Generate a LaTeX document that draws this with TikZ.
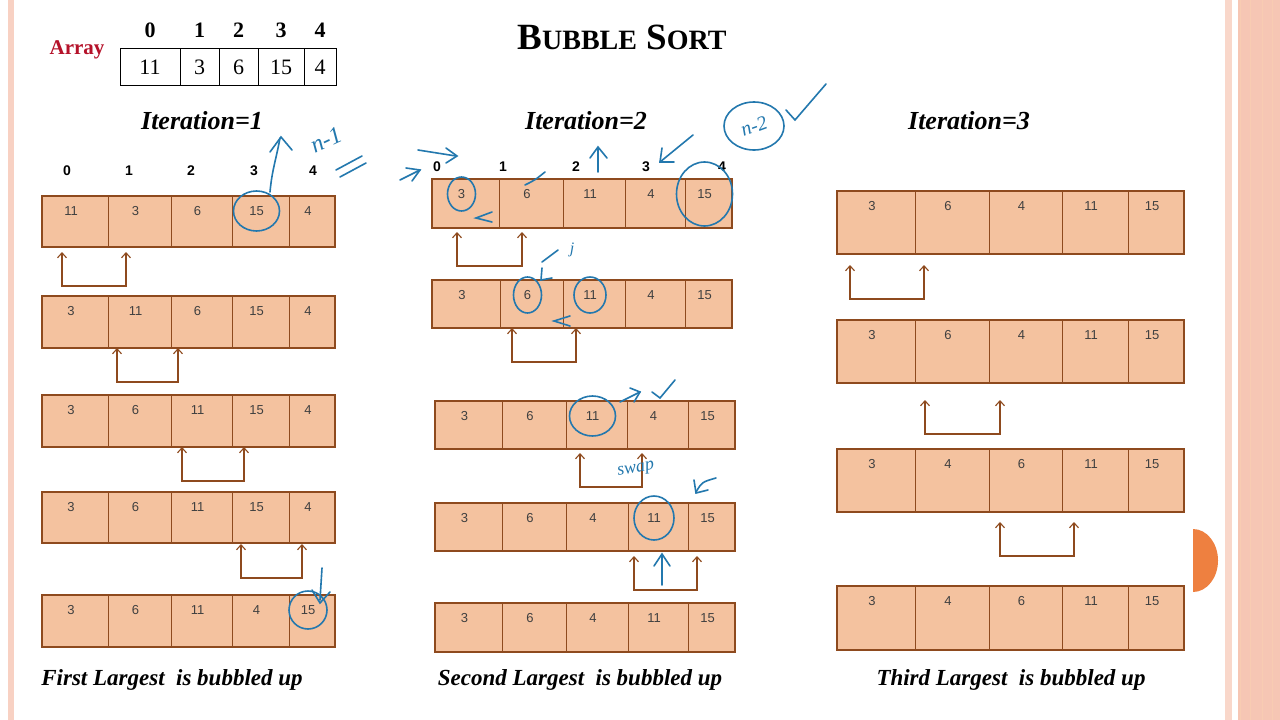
\documentclass[tikz,border=0pt]{standalone}
\usepackage{fontspec}
\setmainfont{Liberation Serif}
\newfontfamily\numfont{Liberation Sans}
\usetikzlibrary{arrows.meta}
\definecolor{peach}{HTML}{F4C29F}
\definecolor{brn}{HTML}{8E4A1E}
\definecolor{pen}{HTML}{2378AE}
\definecolor{dred}{HTML}{B5122A}
\definecolor{band}{HTML}{F6C6B4}
\definecolor{oran}{HTML}{EE8040}
\tikzset{
 cellbox/.style={fill=peach,draw=brn,line width=0.8pt},
 outer/.style={draw=brn,line width=2pt},
 num/.style={font=\numfont\fontsize{13}{14}\selectfont,text=black!75},
 idx/.style={font=\numfont\bfseries\fontsize{14}{16}\selectfont},
 brk/.style={draw=brn,line width=1.1pt,{Straight Barb[length=5pt,width=9pt]}-{Straight Barb[length=5pt,width=9pt]}},
 ink/.style={draw=pen,line width=1.6pt,line cap=round},
 itl/.style={font=\bfseries\itshape\fontsize{26}{30}\selectfont},
 captxt/.style={font=\bfseries\itshape\fontsize{23}{27}\selectfont},
}
\newcommand\arr[4]{%
 \foreach \xl/\xr/\v [count=\i] in {#4} {
  \path[cellbox] (\xl,#2) rectangle (\xr,#3);
  \node[num] (#1-\i) at (\xl/2+\xr/2-4,#2+15) {\v};
 }}
\newcommand\outl[5]{\draw[outer] (#1,#3) rectangle (#2,#4);}
\newcommand\swapbr[4]{\coordinate (#1a) at (#2,{#4}); \draw[brk] (#2,#4-34) -- (#2,#4) -- (#3,#4) -- (#3,#4-34);}
\begin{document}
\begin{tikzpicture}[x=1pt,y=-1pt]
\useasboundingbox (0,0) rectangle (1280,720);
\fill[white] (0,0) rectangle (1280,720);
% borders
\fill[band!80] (8,0) rectangle (14,720);
\fill[band!70] (1225,0) rectangle (1232,720);
\fill[band] (1238,0) rectangle (1280,720);
\foreach \x in {1240,1250,1262,1272} \draw[oran!40,line width=0.8pt] (\x,0) -- (\x,720);
\fill[oran] (1193,592) arc[start angle=90,end angle=-90,x radius=25,y radius=31.5] -- cycle;
% title
\node (title) at (622,37) {\bfseries\fontsize{37}{40}\selectfont B{\fontsize{28}{32}\selectfont UBBLE} S{\fontsize{28}{32}\selectfont ORT}};
\node[text=dred,font=\bfseries\fontsize{21}{24}\selectfont] (arrlab) at (77,50) {Array};
\foreach \xl/\xr/\v/\ix [count=\i] in {120/180/11/0,180/219/3/1,219/258/6/2,258/304/15/3,304/336/4/4}{
 \draw[line width=0.8pt] (\xl,48) rectangle (\xr,85);
 \node[font=\fontsize{22}{24}\selectfont] (a\i) at (\xl/2+\xr/2,67) {\v};
 \node[font=\bfseries\fontsize{22}{24}\selectfont] (ai\i) at (\xl/2+\xr/2,30) {\ix};
}
\node[itl] (it1) at (202,121) {Iteration=1};
\node[itl] (it2) at (586,121) {Iteration=2};
\node[itl] (it3) at (969,121) {Iteration=3};
\node[captxt] (c1) at (172,680) {First Largest\ \ is bubbled up};
\node[captxt] (c2) at (580,680) {Second Largest\ \ is bubbled up};
\node[captxt] (c3) at (1011,680) {Third Largest\ \ is bubbled up};
% iteration 1
\foreach \x/\v in {67/0,129/1,191/2,254/3,313/4} \node[idx] (i1\v) at (\x,171) {\v};
\arr{p1}{196}{247}{42/108/11,108/171/3,171/232/6,232/289/15,289/335/4}\outl{42}{335}{196}{247}{}
\arr{p2}{296}{348}{42/108/3,108/171/11,171/232/6,232/289/15,289/335/4}\outl{42}{335}{296}{348}{}
\arr{p3}{395}{447}{42/108/3,108/171/6,171/232/11,232/289/15,289/335/4}\outl{42}{335}{395}{447}{}
\arr{p4}{492}{543}{42/108/3,108/171/6,171/232/11,232/289/15,289/335/4}\outl{42}{335}{492}{543}{}
\arr{p5}{595}{647}{42/108/3,108/171/6,171/232/11,232/289/4,289/335/15}\outl{42}{335}{595}{647}{}
\swapbr{b11}{62}{126}{286}
\swapbr{b12}{117}{178}{382}
\swapbr{b13}{182}{244}{481}
\swapbr{b14}{241}{302}{578}
% iteration 2
\foreach \x/\v in {437/0,503/1,576/2,646/3,722/4} \node[idx] (i2\v) at (\x,167) {\v};
\arr{q1}{179}{228}{432/499/3,499/563/6,563/625/11,625/685/4,685/732/15}\outl{432}{732}{179}{228}{}
\arr{q2}{280}{328}{432/500/3,500/563/6,563/625/11,625/685/4,685/732/15}\outl{432}{732}{280}{328}{}
\arr{q3}{401}{449}{435/502/3,502/566/6,566/627/11,627/688/4,688/735/15}\outl{435}{735}{401}{449}{}
\arr{q4}{503}{551}{435/502/3,502/566/6,566/628/4,628/688/11,688/735/15}\outl{435}{735}{503}{551}{}
\arr{q5}{603}{652}{435/502/3,502/566/6,566/628/4,628/688/11,688/735/15}\outl{435}{735}{603}{652}{}
\swapbr{b21}{457}{522}{266}
\swapbr{b22}{512}{576}{362}
\swapbr{b23}{580}{642}{487}
\swapbr{b24}{634}{697}{590}
% iteration 3
\arr{r1}{191}{254}{837/915/3,915/989/6,989/1062/4,1062/1128/11,1128/1184/15}\outl{837}{1184}{191}{254}{}
\arr{r2}{320}{383}{837/915/3,915/989/6,989/1062/4,1062/1128/11,1128/1184/15}\outl{837}{1184}{320}{383}{}
\arr{r3}{449}{512}{837/915/3,915/989/4,989/1062/6,1062/1128/11,1128/1184/15}\outl{837}{1184}{449}{512}{}
\arr{r4}{586}{650}{837/915/3,915/989/4,989/1062/6,1062/1128/11,1128/1184/15}\outl{837}{1184}{586}{650}{}
\swapbr{b31}{850}{924}{299}
\swapbr{b32}{925}{1000}{434}
\swapbr{b33}{1000}{1074}{556}
% ink annotations
\draw[ink] (p1-4) ellipse[x radius=23,y radius=20];
\draw[ink] (270,192) .. controls (272,170) and (276,160) .. (280,138);
\draw[ink] (270,152) -- (281,137) -- (292,150);
\node[text=pen,rotate=25,font=\itshape\fontsize{24}{26}\selectfont] (n1) at (326,140) {n-1};
\draw[ink] (336,170) -- (362,156); \draw[ink] (340,177) -- (366,163);
\draw[ink] (p5-5) ellipse[x radius=19,y radius=19];
\draw[ink] (322,568) -- (320,600); \draw[ink] (312,590) -- (320,603) -- (330,592);
\draw[ink] (q1-1) ellipse[x radius=14,y radius=17];
\draw[ink] (q1-5) ellipse[x radius=28,y radius=32];
\draw[ink] (q2-2) ellipse[x radius=14,y radius=18];
\draw[ink] (q2-3) ellipse[x radius=16,y radius=18];
\draw[ink] (q3-3) ellipse[x radius=23,y radius=20];
\draw[ink] (q4-4) ellipse[x radius=20,y radius=22];
\draw[ink] (754,126) ellipse[x radius=30,y radius=24];
\node[text=pen,rotate=20,font=\itshape\fontsize{20}{22}\selectfont] (n2) at (754,126) {n-2};
\draw[ink] (786,110) -- (795,120) -- (826,84);
\draw[ink] (418,150) -- (456,156); \draw[ink] (446,148) -- (457,156) -- (446,163);
\draw[ink] (400,180) -- (420,170); \draw[ink] (406,168) -- (420,170) -- (412,181);
\draw[ink] (598,172) -- (598,148); \draw[ink] (590,158) -- (598,147) -- (607,158);
\draw[ink] (693,135) -- (660,162); \draw[ink] (662,148) -- (660,162) -- (674,162);
\draw[ink] (492,212) -- (476,218) -- (492,222);
\draw[ink] (525,185) .. controls (535,180) .. (545,172);
\draw[ink] (542,262) -- (558,250); \draw[ink] (542,268) -- (541,280) -- (552,278);
\node[text=pen,font=\itshape\fontsize{16}{18}\selectfont] (jj) at (572,250) {j};
\draw[ink] (570,316) -- (554,321) -- (570,326);
\draw[ink] (620,402) -- (640,392); \draw[ink] (630,388) -- (640,392) -- (634,402);
\draw[ink] (652,392) -- (660,398) -- (675,380);
\node[text=pen,rotate=10,font=\itshape\fontsize{18}{20}\selectfont] (sw) at (636,470) {swap};
\draw[ink] (716,478) .. controls (702,482) .. (696,492); \draw[ink] (694,480) -- (696,493) -- (708,490);
\draw[ink] (662,585) -- (662,555); \draw[ink] (654,566) -- (662,554) -- (670,566);
\end{tikzpicture}
\end{document}
